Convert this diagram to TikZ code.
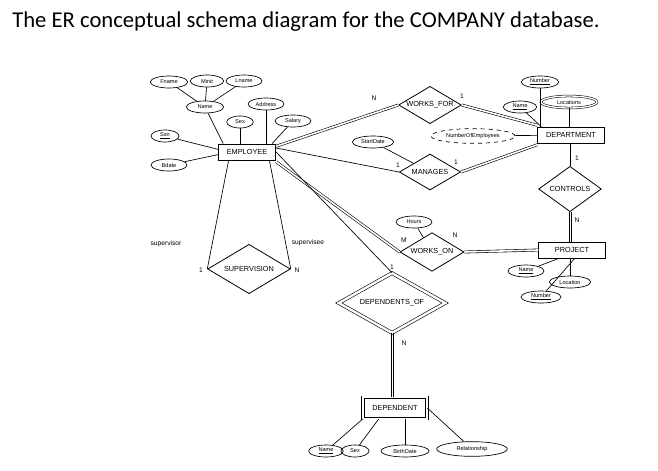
\documentclass[tikz,border=0pt]{standalone}
\usepackage{fontspec}
\setmainfont{Liberation Sans}
\newfontfamily\titlefont{Carlito}
\usetikzlibrary{shapes.geometric}
\begin{document}
\begin{tikzpicture}[x=0.75pt,y=-0.75pt,
  every node/.style={font=\fontsize{4.2}{5}\selectfont, inner sep=0pt},
  attr/.style={draw, ellipse, minimum height=9pt, line width=0.5pt},
  ent/.style={draw, rectangle, minimum height=12pt, line width=0.6pt, font=\fontsize{5.5}{6}\selectfont},
  rel/.style={draw, diamond, aspect=1.7, line width=0.6pt, font=\fontsize{5.5}{6}\selectfont},
  lab/.style={font=\fontsize{5}{6}\selectfont},
  dbl/.style={double, double distance=1.2pt, line width=0.45pt},
  sgl/.style={line width=0.5pt}]
\useasboundingbox (0,0) rectangle (658,471);
\node[anchor=west, font=\titlefont\fontsize{17}{20}\selectfont] (title) at (12,22) {The ER conceptual schema diagram for the COMPANY database.};
% employee attributes
\node[attr, minimum width=28pt] (fname) at (169,82) {Fname};
\node[attr, minimum width=25pt] (minit) at (207,81) {Minit};
\node[attr, minimum width=27pt] (lname) at (244,81) {Lname};
\node[attr, minimum width=28pt] (ename) at (205,107) {Name};
\node[attr, minimum width=27pt] (addr) at (266,104) {Address};
\node[attr, minimum width=20pt] (esex) at (240,122) {Sex};
\node[attr, minimum width=27pt] (salary) at (293,121) {Salary};
\node[attr, minimum width=21pt] (ssn) at (165,136) {\underline{Ssn}};
\node[attr, minimum width=27pt] (bdate) at (169,165) {Bdate};
\node[ent, minimum width=43pt] (emp) at (247,152) {EMPLOYEE};
\draw[sgl] (fname) -- (ename) (minit) -- (ename) (lname) -- (ename);
\draw[sgl] (ename) -- ([xshift=4pt]emp.north west);
\draw[sgl] (esex) -- (esex |- emp.north);
\draw[sgl] (addr) -- (addr |- emp.north);
\draw[sgl] (salary) -- ([xshift=-3pt]emp.north east);
\draw[sgl] (ssn) -- ([yshift=2pt]emp.west);
\draw[sgl] (bdate) -- ([yshift=-2pt]emp.west);
% department
\node[ent, minimum width=50pt] (dept) at (571,135) {DEPARTMENT};
\node[attr, minimum width=28pt] (dnum) at (540,82) {\underline{Number}};
\node[attr, minimum width=25pt] (dname) at (520,107) {\underline{Name}};
\node[attr, minimum width=42pt, double, double distance=1pt, line width=0.4pt] (locs) at (569,102) {Locations};
\node[attr, minimum width=63pt, minimum height=11pt, dashed] (noe) at (473,136) {NumberOfEmployees};
\draw[sgl] (dnum) -- (dnum |- dept.north);
\draw[sgl] (dname) -- ([xshift=3pt]dept.north west);
\draw[sgl] (locs) -- (locs |- dept.north);
\draw[sgl] (noe) -- (dept);
% works_for
\node[rel, minimum width=47pt, minimum height=28pt] (wf) at (430,105) {WORKS\_FOR};
\draw[dbl] ([yshift=-2pt]emp.north east) -- (wf.west);
\draw[dbl] (wf.east) -- ([yshift=1pt]dept.north west);
\node[lab] (wfn) at (374,98) {N};
\node[lab] (wf1) at (462,96) {1};
% manages
\node[attr, minimum width=31pt] (start) at (373,142) {StartDate};
\node[rel, minimum width=46pt, minimum height=27pt] (man) at (430,172) {MANAGES};
\draw[sgl] (start) -- (man);
\draw[sgl] ([yshift=3pt]emp.east) -- (man.west);
\draw[dbl] (man.east) -- ([yshift=-1pt]dept.south west);
\node[lab] (m1a) at (398,165) {1};
\node[lab] (m1b) at (456,162) {1};
% controls
\node[rel, minimum width=47pt, minimum height=34pt] (ctrl) at (570,189) {CONTROLS};
\draw[sgl] (dept.south -| ctrl) -- (ctrl.north);
\node[lab] (c1) at (577,158) {1};
\node[ent, minimum width=50pt] (proj) at (572,250) {PROJECT};
\draw[sgl] ([xshift=-0.8pt]ctrl.south) -- ([xshift=-0.8pt]ctrl.south |- proj.north);
\draw[sgl] ([xshift=0.8pt]ctrl.south) -- ([xshift=0.8pt]ctrl.south |- proj.north);
\node[lab] (cn) at (577,220) {N};
\node[attr, minimum width=27pt] (pname) at (526,271) {\underline{Name}};
\node[attr, minimum width=31pt] (ploc) at (570,282) {Location};
\node[attr, minimum width=30pt] (pnum) at (541,297) {\underline{Number}};
\draw[sgl] (pname) -- ([xshift=-10pt]proj.south);
\draw[sgl] (pnum) -- ([xshift=2pt]proj.south);
\draw[sgl] (ploc) -- (ploc |- proj.south);
% works_on
\node[attr, minimum width=27pt] (hours) at (414,222) {Hours};
\node[rel, minimum width=48pt, minimum height=29pt] (won) at (432,252) {WORKS\_ON};
\draw[sgl] (hours) -- (won);
\draw[dbl] ([yshift=-1pt]emp.south east) -- (won.west);
\draw[dbl] (won.east) -- (proj.west);
\node[lab] (wm) at (404,240) {M};
\node[lab] (wn) at (455,235) {N};
% supervision
\node[rel, minimum width=62pt, minimum height=37pt] (sup) at (249,269) {SUPERVISION};
\draw[sgl] ([xshift=8pt]emp.south west) -- (sup.west);
\draw[sgl] ([xshift=-5pt]emp.south east) -- (sup.east);
\node[lab] (svr) at (166,244) {supervisor};
\node[lab] (sve) at (308,243) {supervisee};
\node[lab] (s1) at (201,270) {1};
\node[lab] (sn) at (297,270) {N};
% dependents_of
\node[rel, minimum width=80pt, minimum height=45pt, double, double distance=1.8pt, line width=0.45pt] (dof) at (392,303) {DEPENDENTS\_OF};
\draw[sgl] (emp.east) -- (dof.north);
\node[lab] (d1) at (392,267) {1};
\node[ent, minimum width=48pt, minimum height=16pt, double, double distance=1.5pt, line width=0.45pt] (dep) at (395,408) {DEPENDENT};
\draw[sgl] ([xshift=-0.8pt]dof.south) -- ([xshift=-0.8pt]dof.south |- dep.north);
\draw[sgl] ([xshift=0.8pt]dof.south) -- ([xshift=0.8pt]dof.south |- dep.north);
\node[lab] (dn) at (404,343) {N};
\node[attr, minimum width=26pt] (dname2) at (326,451) {\underline{Name}};
\node[attr, minimum width=21pt] (dsex) at (355,451) {Sex};
\node[attr, minimum width=36pt] (dbirth) at (405,451) {BirthDate};
\node[attr, minimum width=53pt, minimum height=11pt] (drel) at (472,449) {Relationship};
\draw[sgl] (dname2) -- (dep.south west);
\draw[sgl] (dsex) -- ([xshift=12pt]dep.south west);
\draw[sgl] (dbirth) -- (dbirth |- dep.south);
\draw[sgl] (drel) -- (dep.east);
\end{tikzpicture}
\end{document}
